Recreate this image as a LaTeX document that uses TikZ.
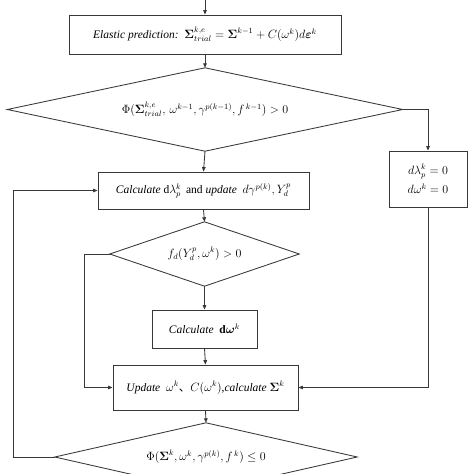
\documentclass[tikz,border=0pt]{standalone}
\usepackage{amsmath}
\usepackage{fontspec}
\setmainfont{Liberation Serif}
\newfontfamily\cjk{Noto Sans CJK SC}
\usetikzlibrary{arrows.meta}
\begin{document}
\begin{tikzpicture}[x=1pt,y=-1pt,
  ln/.style={draw=black!78,line width=0.85pt},
  arr/.style={ln,-{Triangle[length=4.5pt,width=3.6pt]}},
  box/.style={ln,rectangle,inner sep=0pt,align=center,font=\fontsize{11.5}{14}\selectfont},
  dia/.style={rectangle,inner sep=0pt,align=center,font=\fontsize{11.5}{14}\selectfont}]
\useasboundingbox (0,0) rectangle (474,474);
\clip (0,0) rectangle (474,474);
\fill[white] (0,0) rectangle (474,474);
\coordinate (start) at (205,0);
\node[box,minimum width=272pt,minimum height=39pt] (b1) at (205,34.5)
  {\textit{Elastic prediction:}\ \ $\boldsymbol{\Sigma}^{k,e}_{trial}=\boldsymbol{\Sigma}^{k-1}+C(\omega^{k})d\boldsymbol{\varepsilon}^{k}$};
\node[dia,minimum width=395pt,minimum height=83pt] (d1) at (205,109.5)
  {$\Phi(\boldsymbol{\Sigma}^{k,e}_{trial},\,\omega^{k-1},\gamma^{p(k-1)},f^{\,k-1})>0$};
\node[box,minimum width=211pt,minimum height=37pt] (b2) at (203.5,190.5)
  {\textit{Calculate} $\mathrm{d}\lambda_p^k$\,\ and \textit{update}\ \ $d\gamma^{p(k)},Y_d^p$};
\node[box,minimum width=78pt,minimum height=56pt] (r) at (428,179)
  {$d\lambda_p^k=0$\\[4pt] $d\omega^k=0$};
\node[dia,minimum width=189pt,minimum height=64pt] (d2) at (204.5,254)
  {$f_d(Y_d^p,\omega^k)>0$};
\node[box,minimum width=105pt,minimum height=38pt] (b3) at (204.5,329)
  {\textit{Calculate}\ \ $\mathbf{d}\boldsymbol{\omega}^{k}$};
\node[box,minimum width=185pt,minimum height=45pt] (u) at (205.5,387.5)
  {\textit{Update}\ \ $\omega^k${\cjk 、}$C(\omega^k)$,\textit{calculate} $\boldsymbol{\Sigma}^k$};
\node[dia,minimum width=302pt,minimum height=68pt] (d3) at (206,457)
  {$\Phi(\boldsymbol{\Sigma}^{k},\omega^{k},\gamma^{p(k)},f^{\,k})\le 0$};
\foreach \d in {d1,d2,d3}
  \draw[ln] (\d.north) -- (\d.east) -- (\d.south) -- (\d.west) -- cycle;
\draw[arr] (start) -- (b1.north);
\draw[arr] (b1.south) -- (d1.north);
\draw[arr] (d1.south) -- (b2.north);
\draw[arr] (d1.east) -| (r.north);
\draw[arr] (b2.south) -- (d2.north);
\draw[arr] (d2.south) -- (b3.north);
\draw[arr] (b3.south) -- (u.north);
\draw[arr] (d2.west) -- ++(-25,0) |- (u.west);
\draw[arr] (r.south) |- (u.east);
\draw[arr] (u.south) -- (d3.north);
\draw[arr] (d3.west) -- ++(-41,0) |- (b2.west);
\end{tikzpicture}
\end{document}
